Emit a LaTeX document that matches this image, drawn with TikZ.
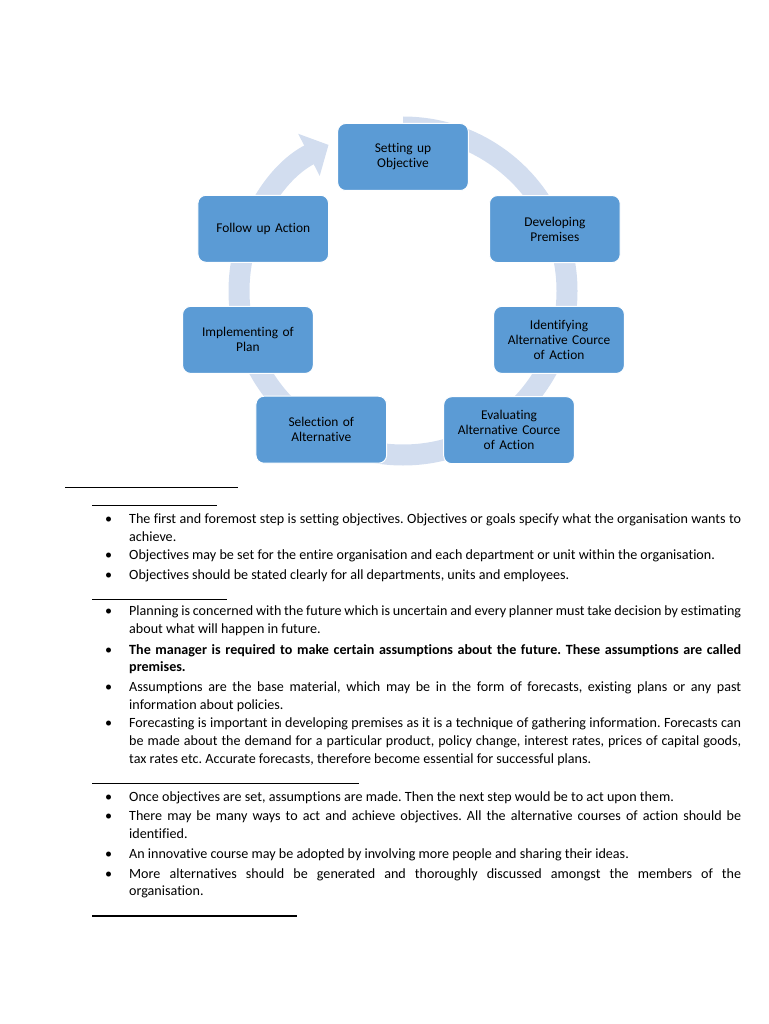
\documentclass[tikz,border=0pt]{standalone}
\usepackage{fontspec}
\setmainfont{Carlito}[Ligatures=NoCommon]
\usetikzlibrary{positioning,arrows.meta,calc}
\definecolor{boxblue}{HTML}{5B9BD5}
\definecolor{ringblue}{HTML}{D2DDEF}
\newdimen\ringRad
\ringRad=164pt
\frenchspacing

\begin{document}
\begin{tikzpicture}[
    x=1pt, y=1pt,
    stepbox/.style={%
      draw=white,
      line width=1pt,
      fill=boxblue,
      rounded corners=8pt,
      minimum width=130pt,
      minimum height=67pt,
      text width=124pt,
      align=center,
      font=\fontsize{13.4}{15}\selectfont,
    },
    ring/.style={%
      draw=ringblue,
      line width=21pt,
    },
    item/.style={%
      anchor=north west,
      inner sep=0pt,
      text width=612pt,
      align=justify,
      font=\fontsize{14.1}{17.8}\selectfont,
    },
    rule/.style={line width=0.9pt},
  ]
    \useasboundingbox (0,0) rectangle (768,-1024);

    % the cycle
    \coordinate (c) at (403,-291);
    \draw [ring, -{Triangle[length=22pt,width=46pt]}]
      ($(c)+(90:\ringRad)$) arc [start angle=90, end angle=-243, radius=\ringRad];

    \path (c) ++(90:134) node [stepbox] (obj) {Setting up\\Objective};
    \path (c) ++(22.2:164) node [stepbox] (prem) {Developing\\Premises};
    \path (c) ++(-17.4:163.5) node [stepbox] (ident) {Identifying\\Alternative Cource\\of Action};
    \path (c) ++(-52.7:175) node [stepbox] (eval) {Evaluating\\Alternative Cource\\of Action};
    \path (c) ++(-120.5:161) node [stepbox] (sel) {Selection of\\Alternative};
    \path (c) ++(-162.5:162.6) node [stepbox] (impl) {Implementing of\\Plan};
    \path (c) ++(156:153) node [stepbox] (follow) {Follow up Action};

    % the notes
    \newcommand{\bul}{\makebox[0pt][r]{\textbullet\hspace{17pt}}}
    \draw [rule] (65,-487) -- (238,-487);
    \draw [rule] (92,-505) -- (217,-505);
    \node [item] (s1a) at (129,-514) {\bul The first and foremost step is setting objectives. Objectives or goals specify what the organisation wants to\linebreak achieve.};
    \node [item] (s1b) at (129,-550) {\bul Objectives may be set for the entire organisation and each department or unit within the organisation.};
    \node [item] (s1c) at (129,-570) {\bul Objectives should be stated clearly for all departments, units and employees.};

    \draw [rule] (92,-599) -- (227,-599);
    \node [item] (s2a) at (129,-606) {\bul Planning is concerned with the future which is uncertain and every planner must take decision by estimating\linebreak about what will happen in future.};
    \node [item] (s2b) at (129,-644) {\bul\bfseries The manager is required to make certain assumptions about the future. These assumptions are called\linebreak premises.};
    \node [item] (s2c) at (129,-682) {\bul Assumptions are the base material, which may be in the form of forecasts, existing plans or any past\linebreak information about policies.};
    \node [item] (s2d) at (129,-718) {\bul Forecasting is important in developing premises as it is a technique of gathering information. Forecasts can\linebreak be made about the demand for a particular product, policy change, interest rates, prices of capital goods,\linebreak tax rates etc. Accurate forecasts, therefore become essential for successful plans.};

    \draw [rule] (92,-783) -- (359,-783);
    \node [item] (s3a) at (129,-792) {\bul Once objectives are set, assumptions are made. Then the next step would be to act upon them.};
    \node [item] (s3b) at (129,-811) {\bul There may be many ways to act and achieve objectives. All the alternative courses of action should be\linebreak identified.};
    \node [item] (s3c) at (129,-848) {\bul An innovative course may be adopted by involving more people and sharing their ideas.};
    \node [item] (s3d) at (129,-868) {\bul More alternatives should be generated and thoroughly discussed amongst the members of the\linebreak organisation.};

    \draw [rule, line width=1.6pt] (92,-916) -- (297,-916);
\end{tikzpicture}
\end{document}
